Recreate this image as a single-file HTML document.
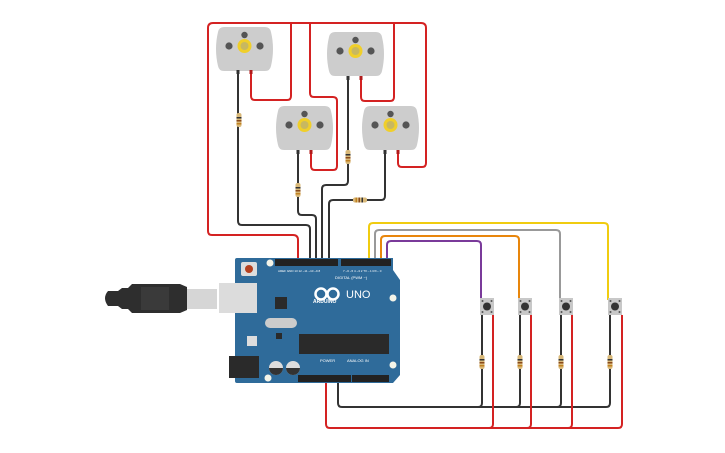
<!DOCTYPE html>
<html><head><meta charset="utf-8"><style>
html,body{margin:0;padding:0;background:#fff;width:725px;height:453px;overflow:hidden}
svg{display:block}
text{font-family:"Liberation Sans",sans-serif}
</style></head><body>
<svg width="725" height="453" viewBox="0 0 725 453" xmlns="http://www.w3.org/2000/svg">
<defs>
<g id="motor">
<path d="M8 0 H49 Q54 0 55 5 Q59 22 55 39 Q54 44 49 44 H8 Q3 44 2 39 Q-2 22 2 5 Q3 0 8 0 Z" fill="#cdcdcd"/>
<circle cx="28.5" cy="8" r="3.2" fill="#555"/>
<circle cx="13" cy="19" r="3.6" fill="#555"/>
<circle cx="44" cy="19" r="3.6" fill="#555"/>
<circle cx="28.5" cy="19" r="7" fill="#f0cf2a"/>
<circle cx="28.5" cy="19" r="4" fill="#c8b860"/>
</g>
<g id="resV">
<rect x="-2.5" y="-7" width="5" height="14" rx="2" fill="#d8b878"/>
<rect x="-2.5" y="-3" width="5" height="1.5" fill="#333"/>
<rect x="-2.5" y="0" width="5" height="1.5" fill="#8a4a1a"/>
<rect x="-2.5" y="3" width="5" height="1.5" fill="#c08020"/>
</g>
<g id="btn">
<rect x="0" y="0" width="14" height="17" fill="#c8c8c8"/>
<circle cx="7" cy="8.5" r="4" fill="#333"/>
<circle cx="2.5" cy="3" r="1" fill="#555"/><circle cx="11.5" cy="3" r="1" fill="#555"/>
<circle cx="2.5" cy="14" r="1" fill="#555"/><circle cx="11.5" cy="14" r="1" fill="#555"/>
</g>
</defs>

<g fill="none" stroke-width="2" stroke-linejoin="round">
<path d="M298 259 V240 Q298 235 293 235 H212 Q208 235 208 231 V28 Q208 23 213 23 H421 Q426 23 426 28 V163 Q426 167 422 167 H402 Q398 167 398 163 V153" stroke="#d42222"/>
<path d="M251 70 V96 Q251 100 255 100 H287 Q291 100 291 96 V23" stroke="#d42222"/>
<path d="M361 76 V97 Q361 101 365 101 H390 Q394 101 394 97 V23" stroke="#d42222"/>
<path d="M310 23 V93 Q310 97 314 97 H333 Q337 97 337 101 V166 Q337 170 333 170 H315 Q311 170 311 166 V150" stroke="#d42222"/>
<path d="M238 70 V221 Q238 225 242 225 H306 Q310 225 310 229 V259" stroke="#333"/>
<path d="M298 150 V211 Q298 215 302 215 H312 Q316 215 316 219 V259" stroke="#333"/>
<path d="M348 76 V181 Q348 185 344 185 H326 Q322 185 322 189 V259" stroke="#333"/>
<path d="M385 150 V196 Q385 200 381 200 H333 Q329 200 329 204 V259" stroke="#333"/>
<path d="M369 259 V227 Q369 223 373 223 H604 Q608 223 608 227 V300" stroke="#f0cc10"/>
<path d="M375 259 V234 Q375 230 379 230 H556 Q560 230 560 234 V300" stroke="#999"/>
<path d="M381 259 V240 Q381 236 385 236 H515 Q519 236 519 240 V300" stroke="#e8860c"/>
<path d="M387 259 V245 Q387 241 391 241 H477 Q481 241 481 245 V300" stroke="#7a3a9a"/>
<path d="M338 380 V403 Q338 407 342 407 H606 Q610 407 610 403 V315" stroke="#333"/>
<path d="M482 315 V403 Q482 407 478 407" stroke="#333"/>
<path d="M520 315 V403 Q520 407 516 407" stroke="#333"/>
<path d="M561 315 V403 Q561 407 557 407" stroke="#333"/>
<path d="M326 380 V424 Q326 428 330 428 H618 Q622 428 622 424 V315" stroke="#d42222"/>
<path d="M493 315 V424 Q493 428 489 428" stroke="#d42222"/>
<path d="M531 315 V424 Q531 428 527 428" stroke="#d42222"/>
<path d="M572 315 V424 Q572 428 568 428" stroke="#d42222"/>
</g>

<use href="#motor" x="216" y="27"/>
<use href="#motor" x="327" y="32"/>
<use href="#motor" x="276" y="106"/>
<use href="#motor" x="362" y="106"/>
<g fill="#333"><rect x="236.5" y="70" width="3" height="4"/><rect x="346.5" y="76" width="3" height="4"/><rect x="296.5" y="150" width="3" height="4"/><rect x="383.5" y="150" width="3" height="4"/></g>
<g fill="#b01a1a"><rect x="249.5" y="70" width="3" height="4"/><rect x="359.5" y="76" width="3" height="4"/><rect x="309.5" y="150" width="3" height="4"/><rect x="396.5" y="150" width="3" height="4"/></g>
<use href="#resV" x="239" y="120"/>
<use href="#resV" x="298" y="190"/>
<use href="#resV" x="348" y="157"/>
<use href="#resV" transform="translate(360 200) rotate(90)"/>
<use href="#resV" x="482" y="362"/>
<use href="#resV" x="520" y="362"/>
<use href="#resV" x="561" y="362"/>
<use href="#resV" x="610" y="362"/>
<use href="#btn" x="480" y="298"/>
<use href="#btn" x="518" y="298"/>
<use href="#btn" x="559" y="298"/>
<use href="#btn" x="608" y="298"/>

<path d="M108 291 H118 L122 288 H128 L132 284 H180 L187 287 V310 L180 313 H132 L128 309 H122 L118 306 H108 Q102 298 108 291 Z" fill="#2e2e2e"/>
<rect x="141" y="287" width="28" height="23" fill="#3a3a3a"/>
<rect x="187" y="289" width="30" height="20" fill="#d6d6d6"/>

<path d="M237 258 H393 L393 270 L400 280 V375 L393 383 H237 Q235 383 235 381 V260 Q235 258 237 258 Z" fill="#2f6b9a"/>
<rect x="219" y="283" width="38" height="30" fill="#dcdcdc"/>
<rect x="275" y="259" width="63" height="7" fill="#222"/>
<rect x="341" y="259" width="50" height="7" fill="#222"/>
<rect x="299" y="334" width="90" height="20" fill="#2a2a2a"/>
<rect x="298" y="375" width="53" height="7" fill="#222"/>
<rect x="352" y="375" width="37" height="7" fill="#222"/>
<circle cx="270" cy="263" r="3.5" fill="#f4f4e8"/>
<circle cx="393" cy="298" r="3.5" fill="#f4f4e8"/>
<circle cx="393" cy="365" r="3.5" fill="#f4f4e8"/>
<circle cx="268" cy="378" r="3.5" fill="#f4f4e8"/>
<rect x="241" y="262" width="16" height="14" rx="2" fill="#ddd"/>
<circle cx="249" cy="269" r="4" fill="#b5401f"/>
<rect x="275" y="297" width="12" height="12" fill="#2a2a2a"/>
<rect x="265" y="318" width="32" height="10" rx="5" fill="#ccc"/>
<rect x="276" y="333" width="6" height="6" fill="#2a2a2a"/>
<rect x="229" y="356" width="30" height="22" fill="#2a2a2a"/>
<rect x="247" y="336" width="10" height="10" fill="#ddd"/>
<circle cx="276" cy="368" r="7" fill="#ddd"/>
<path d="M269 368 A7 7 0 0 0 283 368 Z" fill="#333"/>
<circle cx="293" cy="368" r="7" fill="#ddd"/>
<path d="M286 368 A7 7 0 0 0 300 368 Z" fill="#333"/>
<circle cx="321" cy="294" r="5.5" fill="none" stroke="#fff" stroke-width="2.5"/>
<circle cx="333" cy="294" r="5.5" fill="none" stroke="#fff" stroke-width="2.5"/>
<text x="346" y="298" font-size="11" fill="#fff">UNO</text>
<text x="313" y="303" font-size="5" fill="#fff" font-weight="bold">ARDUINO</text>
<text x="335" y="279" font-size="4" fill="#fff">DIGITAL (PWM ~)</text>
<text x="347" y="362" font-size="4" fill="#fff">ANALOG IN</text>
<text x="320" y="362" font-size="4" fill="#fff">POWER</text>
<text x="278" y="272" font-size="3" fill="#fff">AREF GND 13 12 ~11 ~10 ~9 8</text>
<text x="343" y="272" font-size="3" fill="#fff">7 ~6 ~5 4 ~3 2 TX→1 RX←0</text>
</svg>
</body></html>
